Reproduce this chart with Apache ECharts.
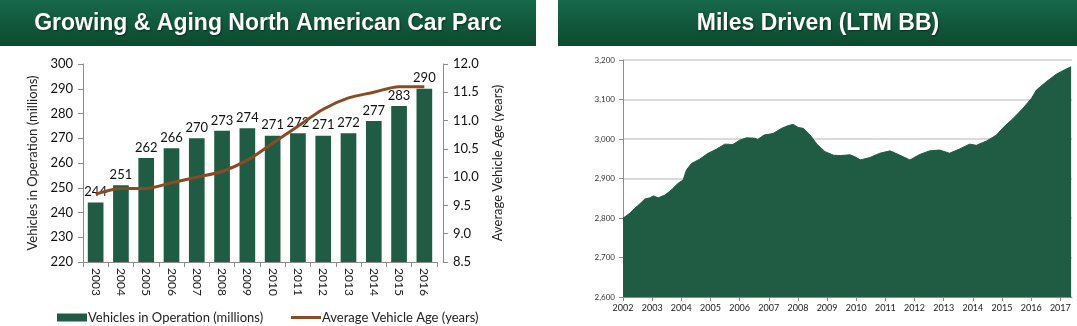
<!DOCTYPE html>
<html>
<head>
<meta charset="utf-8">
<script src="https://cdn.jsdelivr.net/npm/echarts@6/dist/echarts.min.js"></script>
<style>
  html, body { margin: 0; padding: 0; background: #fff; }
  #chart { width: 1077px; height: 326px; }
</style>
</head>
<body>
<div id="chart"></div>
<script>
// Vehicle parc by year (left panel)
const years = ['2003','2004','2005','2006','2007','2008','2009','2010','2011','2012','2013','2014','2015','2016'];
const vehiclesInOperation = [244, 251, 262, 266, 270, 273, 274, 271, 272, 271, 272, 277, 283, 290];
const averageVehicleAge = [9.7, 9.8, 9.8, 9.9, 10.0, 10.1, 10.3, 10.6, 10.9, 11.2, 11.4, 11.5, 11.6, 11.6];

// Trailing-twelve-month miles driven, billions (right panel)
const milesTime = [
  2002.00, 2002.07, 2002.25, 2002.41, 2002.58, 2002.75, 2002.92, 2003.04, 2003.21, 2003.44,
  2003.66, 2003.89, 2004.06, 2004.18, 2004.35, 2004.63, 2004.92, 2005.20, 2005.49, 2005.77,
  2006.00, 2006.23, 2006.52, 2006.62, 2006.84, 2007.15, 2007.44, 2007.67, 2007.84, 2008.01,
  2008.19, 2008.42, 2008.65, 2008.93, 2009.22, 2009.45, 2009.79, 2010.01, 2010.13, 2010.47,
  2010.81, 2011.16, 2011.50, 2011.84, 2012.18, 2012.52, 2012.86, 2013.20, 2013.55, 2013.89,
  2014.12, 2014.47, 2014.81, 2015.04, 2015.38, 2015.72, 2016.01, 2016.18, 2016.52, 2016.86,
  2017.14, 2017.37
];
const milesValues = [
  2800, 2803, 2813, 2825, 2836, 2848, 2851, 2856, 2851, 2858,
  2871, 2888, 2896, 2922, 2938, 2949, 2964, 2974, 2987, 2986,
  2997, 3003, 3002, 2999, 3010, 3014, 3027, 3034, 3037, 3029,
  3027, 3010, 2987, 2968, 2959, 2958, 2960, 2953, 2947, 2953,
  2964, 2970, 2959, 2947, 2961, 2970, 2972, 2964, 2975, 2987,
  2984, 2995, 3010, 3029, 3052, 3078, 3103, 3124, 3145, 3164,
  3175, 3183
];

const GREEN = '#1f5c43';
const BROWN = '#8b4a22';
const AXIS_GRAY = '#8c8c8c';
const FONT = 'Lato';

const chart = echarts.init(document.getElementById('chart'), null, { renderer: 'canvas' });

function headerBar(x, w, text, cx) {
  return [
    {
      type: 'rect',
      shape: { x: x, y: 0, width: w, height: 46 },
      style: {
        fill: new echarts.graphic.LinearGradient(0, 0, 0, 1, [
          { offset: 0, color: '#17684a' },
          { offset: 1, color: '#0d4a2f' }
        ])
      },
      silent: true
    },
    {
      type: 'text',
      x: cx, y: 24,
      style: {
        text: text,
        fill: '#ffffff',
        font: 'bold 23px "Liberation Sans", Arial, sans-serif',
        align: 'center',
        verticalAlign: 'middle',
        textShadowColor: 'rgba(0,0,0,0.45)',
        textShadowBlur: 2,
        textShadowOffsetX: 1,
        textShadowOffsetY: 1
      },
      silent: true
    }
  ];
}

const legendText = { fontFamily: FONT, fontSize: 13, color: '#222', padding: [0, 0, 0, -4] };

const option = {
  animation: false,
  textStyle: { fontFamily: FONT },
  graphic: [].concat(
    headerBar(0, 536, 'Growing & Aging North American Car Parc', 268),
    headerBar(558, 519, 'Miles Driven (LTM BB)', 818)
  ),
  legend: [
    {
      left: 52,
      top: 306,
      itemWidth: 30,
      itemHeight: 8,
      textStyle: legendText,
      data: [{ name: 'Vehicles in Operation (millions)', icon: 'rect' }]
    },
    {
      left: 286,
      top: 306,
      itemWidth: 30,
      itemHeight: 3,
      textStyle: legendText,
      data: [{ name: 'Average Vehicle Age (years)', icon: 'rect' }]
    }
  ],
  grid: [
    { left: 83, right: 640, top: 64, bottom: 64, containLabel: false },
    { left: 623, right: 5, top: 60, bottom: 29, containLabel: false }
  ],
  xAxis: [
    {
      type: 'category',
      gridIndex: 0,
      data: years,
      axisLine: { show: true, lineStyle: { color: AXIS_GRAY } },
      axisTick: { show: true, length: 5, lineStyle: { color: AXIS_GRAY } },
      axisLabel: { rotate: -90, fontSize: 12, color: '#222', margin: 6, fontFamily: FONT }
    },
    {
      type: 'value',
      gridIndex: 1,
      min: 2002,
      max: 2017.4,
      interval: 1,
      axisLine: { show: true, lineStyle: { color: AXIS_GRAY } },
      axisTick: { show: true, length: 4, lineStyle: { color: AXIS_GRAY } },
      axisLabel: {
        fontSize: 9, color: '#222', margin: 7, fontFamily: FONT,
        showMaxLabel: false,
        formatter: v => String(Math.round(v))
      },
      splitLine: { show: false }
    }
  ],
  yAxis: [
    {
      type: 'value',
      gridIndex: 0,
      min: 220, max: 300, interval: 10,
      name: 'Vehicles in Operation (millions)',
      nameLocation: 'middle',
      nameGap: 44,
      nameTextStyle: { fontSize: 13, color: '#222', fontFamily: FONT },
      axisLine: { show: true, lineStyle: { color: AXIS_GRAY } },
      axisTick: { show: true, length: 5, lineStyle: { color: AXIS_GRAY } },
      axisLabel: { fontSize: 13, color: '#111', margin: 10, fontFamily: FONT },
      splitLine: { show: false }
    },
    {
      type: 'value',
      gridIndex: 0,
      position: 'right',
      offset: 6,
      min: 8.5, max: 12, interval: 0.5,
      name: 'Average Vehicle Age (years)',
      nameLocation: 'middle',
      nameGap: 48,
      nameTextStyle: { fontSize: 13, color: '#222', fontFamily: FONT },
      axisLine: { show: true, lineStyle: { color: AXIS_GRAY } },
      axisTick: { show: true, length: 5, lineStyle: { color: AXIS_GRAY } },
      axisLabel: { fontSize: 13, color: '#111', margin: 10, fontFamily: FONT, formatter: v => v.toFixed(1) },
      splitLine: { show: false }
    },
    {
      type: 'value',
      gridIndex: 1,
      min: 2600, max: 3200, interval: 100,
      axisLine: { show: true, lineStyle: { color: AXIS_GRAY } },
      axisTick: { show: true, length: 4, lineStyle: { color: AXIS_GRAY } },
      axisLabel: {
        fontSize: 8, color: '#333', margin: 8, fontFamily: FONT,
        formatter: v => v.toLocaleString('en-US')
      },
      splitLine: { show: true, lineStyle: { color: '#cfcfcf', width: 1.5 } }
    }
  ],
  series: [
    {
      name: 'Vehicles in Operation (millions)',
      type: 'bar',
      xAxisIndex: 0, yAxisIndex: 0,
      data: vehiclesInOperation,
      barWidth: '62%',
      itemStyle: { color: GREEN },
      label: { show: true, position: 'top', distance: 4, fontSize: 13, color: '#111', fontFamily: FONT }
    },
    {
      name: 'Average Vehicle Age (years)',
      type: 'line',
      xAxisIndex: 0, yAxisIndex: 1,
      data: averageVehicleAge,
      smooth: 0.3,
      symbol: 'none',
      lineStyle: { color: BROWN, width: 3 },
      itemStyle: { color: BROWN },
      z: 3
    },
    {
      name: 'Miles Driven',
      type: 'line',
      xAxisIndex: 1, yAxisIndex: 2,
      data: milesTime.map((t, i) => [t, milesValues[i]]),
      symbol: 'none',
      lineStyle: { color: GREEN, width: 1 },
      areaStyle: { color: GREEN, opacity: 1 },
      itemStyle: { color: GREEN }
    }
  ]
};

chart.setOption(option);
</script>
</body>
</html>
